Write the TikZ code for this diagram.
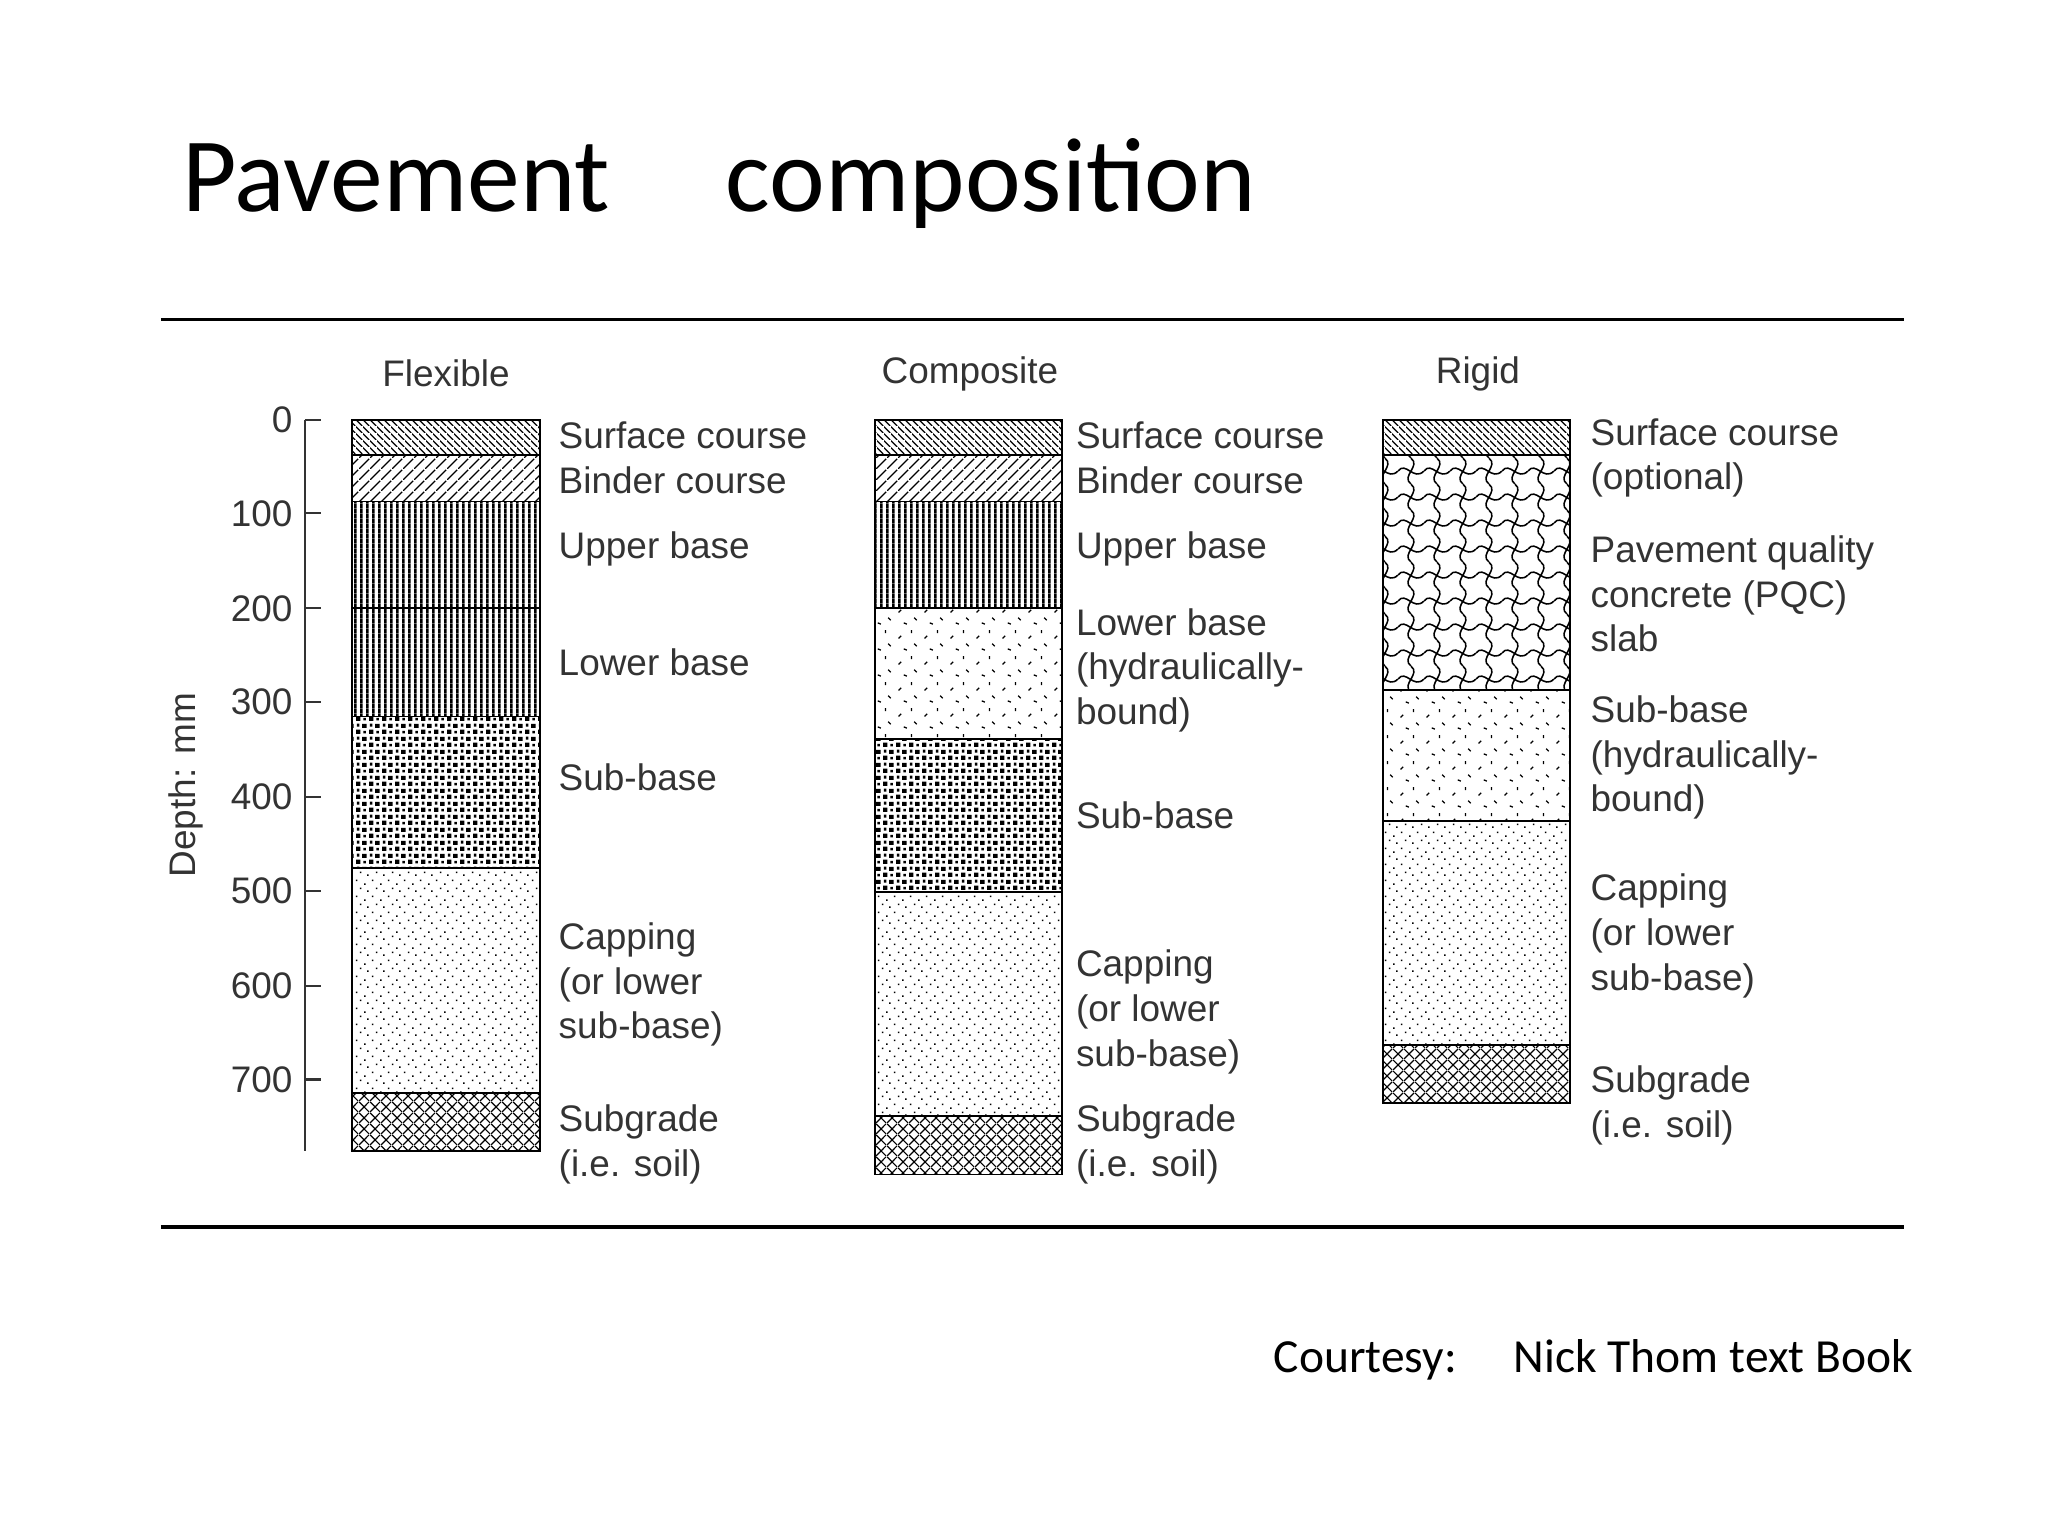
\documentclass[tikz,border=0pt]{standalone}
\usepackage{fontspec}
\setmainfont{Liberation Sans}
\newfontfamily\calfont{Carlito}
\usetikzlibrary{patterns}
\pgfdeclarepatternformonly{surf}{\pgfqpoint{0pt}{0pt}}{\pgfqpoint{2.5pt}{2.5pt}}{\pgfqpoint{2.5pt}{2.5pt}}{%
 \pgfsetlinewidth{0.5pt}\pgfpathmoveto{\pgfqpoint{0pt}{2.5pt}}\pgfpathlineto{\pgfqpoint{2.5pt}{0pt}}\pgfusepath{stroke}}
\pgfdeclarepatternformonly{bind}{\pgfqpoint{0pt}{0pt}}{\pgfqpoint{4pt}{4pt}}{\pgfqpoint{4pt}{4pt}}{%
 \pgfsetlinewidth{0.5pt}\pgfpathmoveto{\pgfqpoint{0pt}{0pt}}\pgfpathlineto{\pgfqpoint{4pt}{4pt}}\pgfusepath{stroke}}
\pgfdeclarepatternformonly{vert}{\pgfqpoint{0pt}{0pt}}{\pgfqpoint{2.4pt}{2pt}}{\pgfqpoint{2.4pt}{2pt}}{%
 \pgfpathrectangle{\pgfqpoint{0pt}{0pt}}{\pgfqpoint{1.1pt}{2pt}}\pgfusepath{fill}}
\pgfdeclarepatternformonly{subb}{\pgfqpoint{0pt}{0pt}}{\pgfqpoint{5pt}{5pt}}{\pgfqpoint{5pt}{5pt}}{%
 \pgfpathrectangle{\pgfqpoint{0pt}{0pt}}{\pgfqpoint{1.8pt}{1.8pt}}
 \pgfpathrectangle{\pgfqpoint{2.5pt}{2.5pt}}{\pgfqpoint{1.8pt}{1.6pt}}
 \pgfpathrectangle{\pgfqpoint{3pt}{0.3pt}}{\pgfqpoint{1pt}{1pt}}
 \pgfpathrectangle{\pgfqpoint{0.4pt}{3pt}}{\pgfqpoint{1pt}{1.2pt}}\pgfusepath{fill}}
\pgfdeclarepatternformonly{capp}{\pgfqpoint{0pt}{0pt}}{\pgfqpoint{6pt}{6pt}}{\pgfqpoint{6pt}{6pt}}{%
 \pgfpathrectangle{\pgfqpoint{0pt}{0pt}}{\pgfqpoint{0.6pt}{0.6pt}}
 \pgfpathrectangle{\pgfqpoint{3pt}{1.5pt}}{\pgfqpoint{0.6pt}{0.6pt}}
 \pgfpathrectangle{\pgfqpoint{1.2pt}{3.5pt}}{\pgfqpoint{0.6pt}{0.6pt}}
 \pgfpathrectangle{\pgfqpoint{4.5pt}{4.5pt}}{\pgfqpoint{0.6pt}{0.6pt}}\pgfusepath{fill}}
\pgfdeclarepatternformonly{hydr}{\pgfqpoint{0pt}{0pt}}{\pgfqpoint{10pt}{10pt}}{\pgfqpoint{10pt}{10pt}}{%
 \pgfsetlinewidth{0.5pt}
 \pgfpathmoveto{\pgfqpoint{1pt}{1pt}}\pgfpathlineto{\pgfqpoint{2pt}{2pt}}
 \pgfpathmoveto{\pgfqpoint{6pt}{3pt}}\pgfpathlineto{\pgfqpoint{6pt}{4.2pt}}
 \pgfpathmoveto{\pgfqpoint{3pt}{7pt}}\pgfpathlineto{\pgfqpoint{4.2pt}{6.5pt}}
 \pgfpathmoveto{\pgfqpoint{8pt}{8pt}}\pgfpathlineto{\pgfqpoint{7pt}{9pt}}\pgfusepath{stroke}}
\pgfdeclarepatternformonly{pqc}{\pgfqpoint{0pt}{0pt}}{\pgfqpoint{10pt}{10pt}}{\pgfqpoint{10pt}{10pt}}{%
 \pgfsetlinewidth{0.6pt}
 \pgfpathmoveto{\pgfqpoint{0pt}{5pt}}\pgfpathcurveto{\pgfqpoint{3pt}{9pt}}{\pgfqpoint{6pt}{1pt}}{\pgfqpoint{10pt}{5pt}}
 \pgfpathmoveto{\pgfqpoint{5pt}{0pt}}\pgfpathcurveto{\pgfqpoint{1pt}{3pt}}{\pgfqpoint{9pt}{7pt}}{\pgfqpoint{5pt}{10pt}}\pgfusepath{stroke}}
\pgfdeclarepatternformonly{subg}{\pgfqpoint{0pt}{0pt}}{\pgfqpoint{4pt}{4pt}}{\pgfqpoint{4pt}{4pt}}{%
 \pgfsetlinewidth{0.45pt}
 \pgfpathmoveto{\pgfqpoint{0pt}{0pt}}\pgfpathlineto{\pgfqpoint{4pt}{4pt}}
 \pgfpathmoveto{\pgfqpoint{0pt}{4pt}}\pgfpathlineto{\pgfqpoint{4pt}{0pt}}\pgfusepath{stroke}}
\tikzset{lay/.style={draw,line width=0.7pt},
 lbl/.style={anchor=west,font=\fontsize{14}{17}\selectfont,text=black!80,align=left,inner sep=0pt},
 hdr/.style={font=\fontsize{14}{17}\selectfont,text=black!80},
 tk/.style={font=\fontsize{14}{17}\selectfont,text=black!80,anchor=east,inner sep=0pt}}
\newcommand\pavecol[2]{%
 \foreach \a/\b/\p in {#2}{\draw[lay,pattern=\p] (#1,\a) rectangle (#1+142,\b);}}
\begin{document}
\begin{tikzpicture}[x=0.5pt,y=-0.5pt]
\useasboundingbox (0,0) rectangle (1552,1164);
\node[anchor=base west,inner sep=0pt,font=\calfont\fontsize{40}{48}\selectfont] (title) at (138,160) {Pavement\hspace{1.1em}composition};
\draw[line width=1.3pt] (122,242) coordinate (t1) -- (1443,242) coordinate (t2);
\draw[line width=1.6pt] (122,930) coordinate (b1) -- (1443,930) coordinate (b2);
\draw[line width=0.8pt,black!80] (231,318) coordinate (a0) -- (231,872) coordinate (a1);
\foreach \v/\y in {0/318,100/389,200/461,300/532,400/604,500/675,600/747,700/818}{
 \draw[line width=0.8pt,black!80] (231,\y) -- (243,\y);
 \node[tk] at (222,\y) {\v};}
\node[rotate=90,hdr] (dep) at (141,595) {Depth: mm};
\pavecol{267}{318/345/surf,345/380/bind,380/461/vert,461/543/vert,543/658/subb,658/828/capp,828/872/subg}
\pavecol{663}{318/345/surf,345/380/bind,380/461/vert,461/560/hydr,560/676/subb,676/846/capp,846/890/subg}
\pavecol{1048}{318/345/surf,345/523/pqc,523/622/hydr,622/792/capp,792/836/subg}
\node[hdr] (h1) at (338,283) {Flexible};
\node[hdr] (h2) at (735,283) {Composite};
\node[hdr] (h3) at (1120,283) {Rigid};
\node[lbl] at (423,330) {Surface course};
\node[lbl] at (423,364) {Binder course};
\node[lbl] at (423,416) {Upper base};
\node[lbl] at (423,502) {Lower base};
\node[lbl] at (423,589) {Sub-base};
\node[lbl] at (423,746) {Capping\\(or lower\\sub-base)};
\node[lbl] at (423,867) {Subgrade\\(i.e. soil)};
\node[lbl] at (815,330) {Surface course};
\node[lbl] at (815,364) {Binder course};
\node[lbl] at (815,416) {Upper base};
\node[lbl] at (815,508) {Lower base\\(hydraulically-\\bound)};
\node[lbl] at (815,618) {Sub-base};
\node[lbl] at (815,767) {Capping\\(or lower\\sub-base)};
\node[lbl] at (815,867) {Subgrade\\(i.e. soil)};
\node[lbl] at (1205,347) {Surface course\\(optional)};
\node[lbl] at (1205,450) {Pavement quality\\concrete (PQC)\\slab};
\node[lbl] at (1205,574) {Sub-base\\(hydraulically-\\bound)};
\node[lbl] at (1205,709) {Capping\\(or lower\\sub-base)};
\node[lbl] at (1205,838) {Subgrade\\(i.e. soil)};
\node[anchor=base east,inner sep=0pt,font=\calfont\fontsize{18}{22}\selectfont] (ct) at (1450,1040) {Courtesy:\hspace{1.2em}Nick Thom text Book};
\end{tikzpicture}
\end{document}
